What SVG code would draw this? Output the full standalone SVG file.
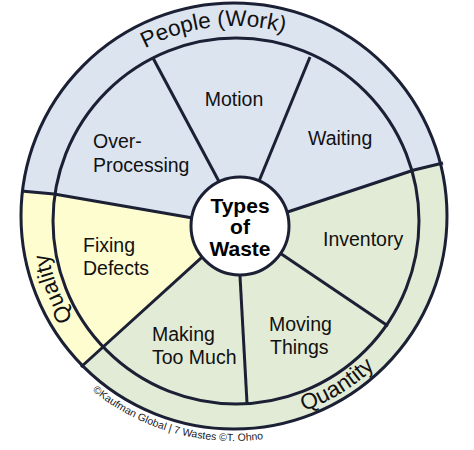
<svg xmlns="http://www.w3.org/2000/svg" width="474" height="450" viewBox="0 0 474 450">
<style>
.line{fill:none;stroke:#1b2035;stroke-width:3;stroke-linejoin:round}
.lbl{font-family:"Liberation Sans",Arial,sans-serif;font-size:19.5px;fill:#111}
.band{font-family:"Liberation Sans",Arial,sans-serif;font-size:22.5px;fill:#111}
.hub{font-family:"Liberation Sans",Arial,sans-serif;font-size:21px;font-weight:bold;fill:#000;text-anchor:middle}
.copy{font-family:"Liberation Sans",Arial,sans-serif;font-size:10.5px;fill:#1a1a1a}
</style>
<defs>
<clipPath id="disc"><circle cx="234" cy="216" r="213"/></clipPath>
<path id="pPeople" d="M 67.9 122.5 A 193 193 0 0 1 376.2 87.4"/>
<path id="pQuality" d="M 170 397.5 A 190 190 0 0 1 67.2 129.8"/>
<path id="pQuantity" d="M 175.4 414.1 A 204 204 0 0 0 435.9 254.4"/>
<path id="pCopy" d="M 92.4 390.8 A 225 225 0 0 0 346.5 410.9"/>
</defs>
<rect width="474" height="450" fill="#ffffff"/>
<g id="fills" clip-path="url(#disc)">
<circle cx="234" cy="216" r="213" fill="#e2ebd5"/>
<polygon points="240,226 54,194 21,191 -20,187 -20,-20 494,-20 494,151 443,163 414,170" fill="#dce4f0"/>
<polygon points="240,226 54,194 21,191 -20,187 -20,404 40,404 81,367 103,347" fill="#fefdd0"/>
</g>
<g id="frame">
<circle class="line" cx="234" cy="216" r="213" stroke-width="3.4"/>
<circle class="line" cx="236" cy="221" r="183"/>
</g>
<g id="connectors">
<line class="line" x1="223" y1="189" x2="153" y2="58"/>
<line class="line" x1="257" y1="186" x2="310" y2="57"/>
<polyline class="line" points="278.5,215 414,170 443,163"/>
<line class="line" x1="274.7" y1="249.4" x2="388" y2="326"/>
<line class="line" x1="239.5" y1="267" x2="247" y2="403"/>
<polyline class="line" points="208.4,251.3 103,347 81,367"/>
<polyline class="line" points="202.9,219.7 54,194 21,191"/>
</g>
<g id="band-people"><text class="band"><textPath href="#pPeople" startOffset="50%" text-anchor="middle">People (Work)</textPath></text></g>
<g id="band-quality"><text class="band"><textPath href="#pQuality" startOffset="50%" text-anchor="middle">Quality</textPath></text></g>
<g id="band-quantity"><text class="band"><textPath href="#pQuantity" startOffset="50%" text-anchor="middle">Quantity</textPath></text></g>
<g id="motion"><text class="lbl" x="234" y="106" text-anchor="middle">Motion</text></g>
<g id="waiting"><text class="lbl" x="308" y="145">Waiting</text></g>
<g id="over-processing"><text class="lbl" x="93" y="148">Over-</text><text class="lbl" x="93" y="172">Processing</text></g>
<g id="fixing-defects"><text class="lbl" x="83" y="252">Fixing</text><text class="lbl" x="83" y="275">Defects</text></g>
<g id="inventory"><text class="lbl" x="323" y="246">Inventory</text></g>
<g id="moving-things"><text class="lbl" x="269" y="331">Moving</text><text class="lbl" x="270" y="354">Things</text></g>
<g id="making-too-much"><text class="lbl" x="152" y="341">Making</text><text class="lbl" x="152" y="364">Too Much</text></g>
<g id="types-of-waste">
<circle cx="240" cy="226" r="49" fill="#ffffff" stroke="#1b2035" stroke-width="3"/>
<text class="hub" x="240" y="212.5">Types</text>
<text class="hub" x="240" y="234">of</text>
<text class="hub" x="240" y="255.5">Waste</text>
</g>
<g id="copyright"><text class="copy"><textPath href="#pCopy">©Kaufman Global | 7 Wastes ©T. Ohno</textPath></text></g>
</svg>
